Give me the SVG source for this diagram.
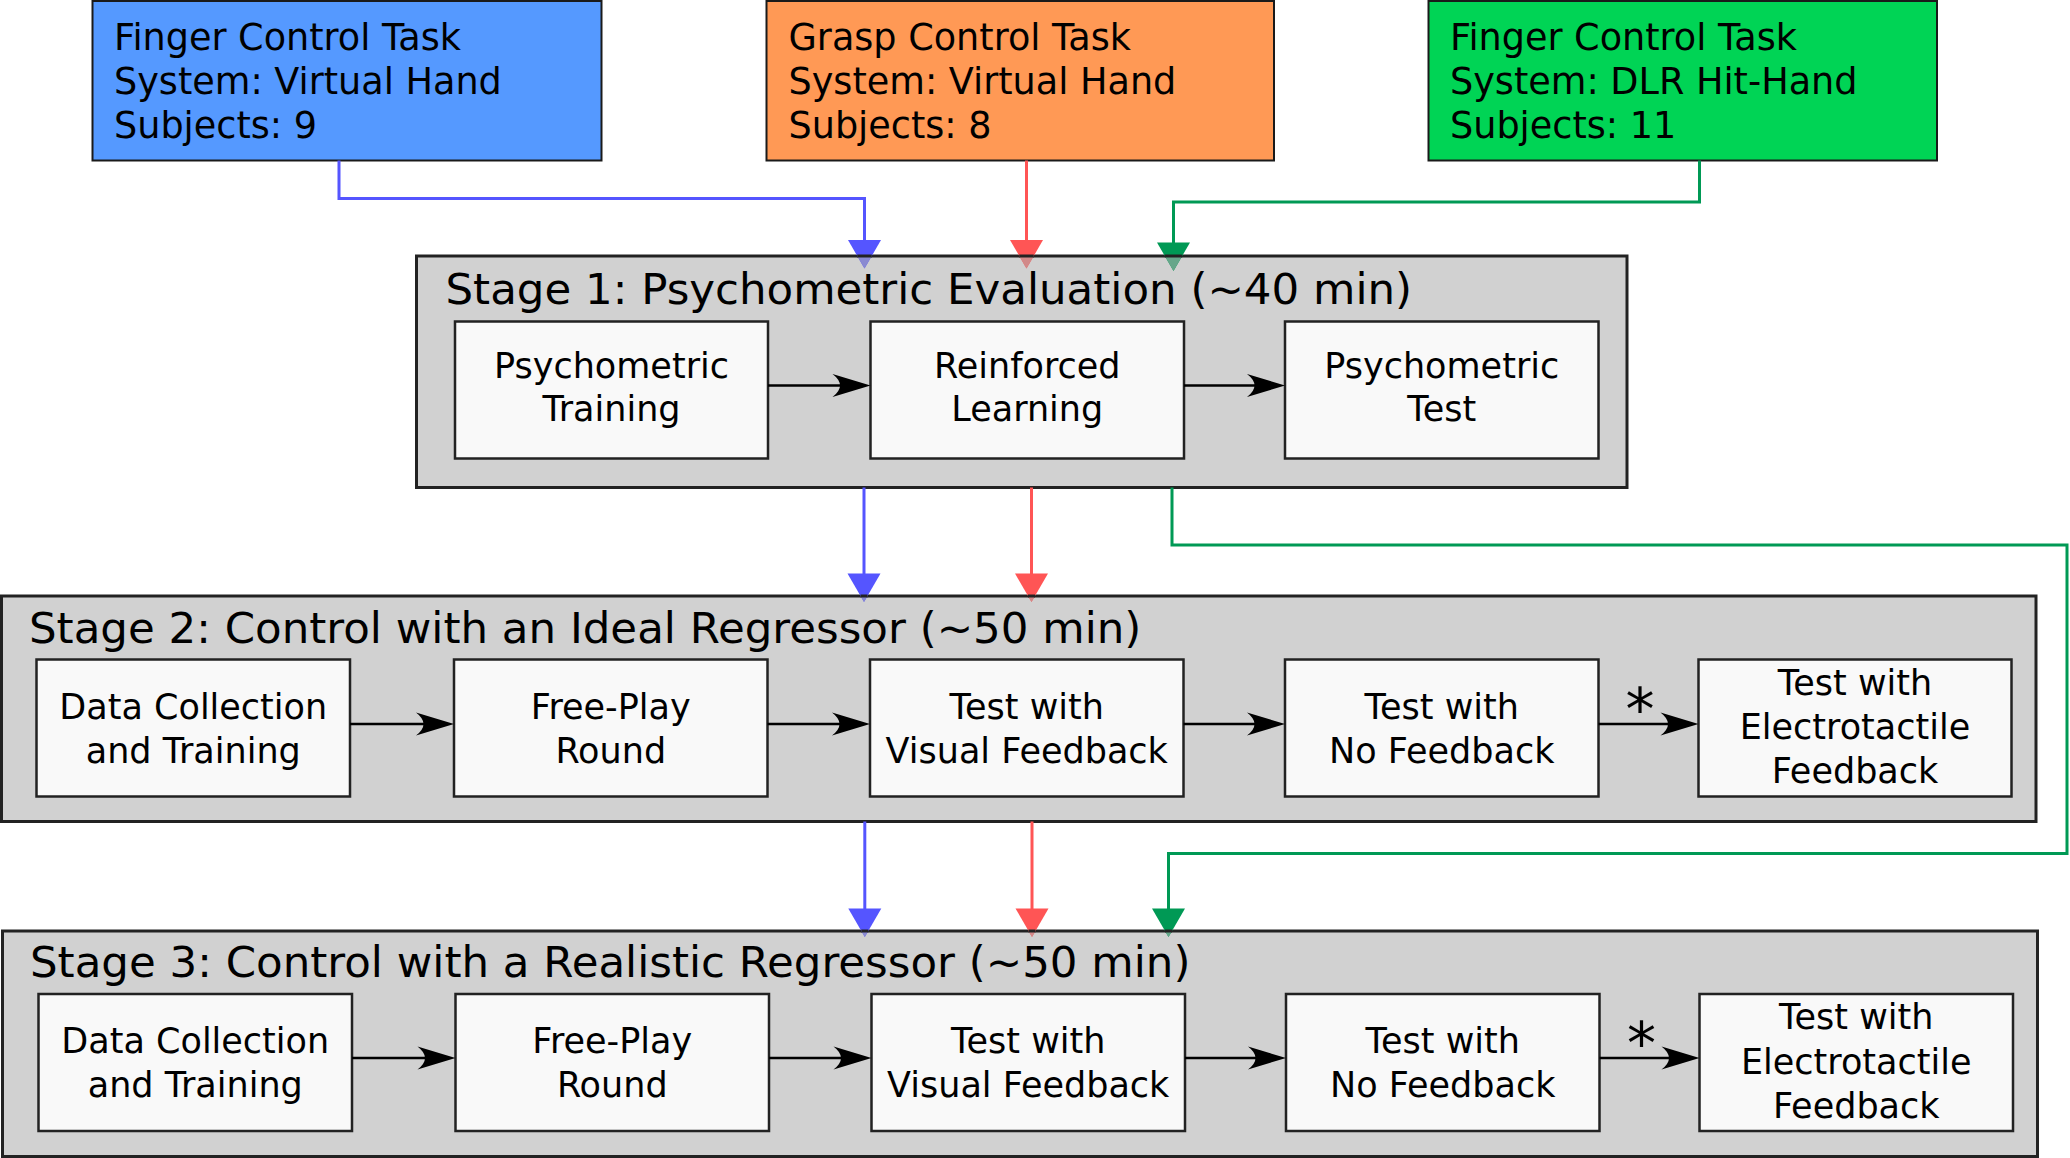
<svg xmlns="http://www.w3.org/2000/svg" width="2070" height="1158" viewBox="0 0 2070 1158">
<style>
  text{font-family:"DejaVu Sans",Verdana,sans-serif;font-size:35px;fill:#000}
  .c{text-anchor:middle}
  .title{font-size:43.5px}
  .tt{font-size:36.6px}
  .task{stroke:#1a1a1a;stroke-width:2}
  .stage{fill:#d1d1d1;stroke:#222;stroke-width:3}
  .sub{fill:#f9f9f9;stroke:#222;stroke-width:2.5}
  .flow{stroke:#000;stroke-width:2.5;fill:none;marker-end:url(#ak)}
  .lb{stroke:#5555ff;stroke-width:3;fill:none}
  .lr{stroke:#ff5555;stroke-width:3;fill:none}
  .lg{stroke:#009955;stroke-width:3;fill:none}
  .star{font-size:58px}
</style>
<defs>
  <marker id="ak" markerUnits="userSpaceOnUse" orient="auto" overflow="visible" markerWidth="1" markerHeight="1" refX="0" refY="0">
    <path d="M30,0 L-8,-11.5 Q7,0 -8,11.5 Z" fill="#000"/>
  </marker>
  <marker id="mb12" markerUnits="userSpaceOnUse" orient="auto" overflow="visible" markerWidth="1" markerHeight="1" refX="0" refY="0">
    <path d="M26,0 L-2.5,-16.5 L-2.5,16.5 Z" fill="#5555ff"/>
    <path d="M26,0 L13.5,-7.24 L13.5,7.24 Z" fill="#8a8ad1"/>
    <path d="M13.5,-7.3 V7.3" stroke="#222" stroke-width="3"/>
  </marker>
  <marker id="mr12" markerUnits="userSpaceOnUse" orient="auto" overflow="visible" markerWidth="1" markerHeight="1" refX="0" refY="0">
    <path d="M26,0 L-2.5,-16.5 L-2.5,16.5 Z" fill="#ff5555"/>
    <path d="M26,0 L13.5,-7.24 L13.5,7.24 Z" fill="#d18a8a"/>
    <path d="M13.5,-7.3 V7.3" stroke="#222" stroke-width="3"/>
  </marker>
  <marker id="mg15" markerUnits="userSpaceOnUse" orient="auto" overflow="visible" markerWidth="1" markerHeight="1" refX="0" refY="0">
    <path d="M26,0 L-2.5,-16.5 L-2.5,16.5 Z" fill="#009955"/>
    <path d="M26,0 L11,-8.68 L11,8.68 Z" fill="#66a68a"/>
    <path d="M11,-8.7 V8.7" stroke="#222" stroke-width="3"/>
  </marker>
  <marker id="mb6" markerUnits="userSpaceOnUse" orient="auto" overflow="visible" markerWidth="1" markerHeight="1" refX="0" refY="0">
    <path d="M26,0 L-2.5,-16.5 L-2.5,16.5 Z" fill="#5555ff"/>
    <path d="M26,0 L20,-3.47 L20,3.47 Z" fill="#8a8ad1"/>
    <path d="M20,-3.5 V3.5" stroke="#222" stroke-width="3"/>
  </marker>
  <marker id="mr6" markerUnits="userSpaceOnUse" orient="auto" overflow="visible" markerWidth="1" markerHeight="1" refX="0" refY="0">
    <path d="M26,0 L-2.5,-16.5 L-2.5,16.5 Z" fill="#ff5555"/>
    <path d="M26,0 L20,-3.47 L20,3.47 Z" fill="#d18a8a"/>
    <path d="M20,-3.5 V3.5" stroke="#222" stroke-width="3"/>
  </marker>
  <marker id="mg6" markerUnits="userSpaceOnUse" orient="auto" overflow="visible" markerWidth="1" markerHeight="1" refX="0" refY="0">
    <path d="M26,0 L-2.5,-16.5 L-2.5,16.5 Z" fill="#009955"/>
    <path d="M26,0 L20,-3.47 L20,3.47 Z" fill="#66a68a"/>
    <path d="M20,-3.5 V3.5" stroke="#222" stroke-width="3"/>
  </marker>
</defs>
<rect width="2070" height="1158" fill="#ffffff"/>

<!-- Task nodes -->
<g id="task-finger-virtual">
  <rect class="task" x="92.5" y="1" width="509" height="159.5" fill="#5599ff"/>
  <text class="tt" x="114" y="49.5">Finger Control Task</text>
  <text class="tt" x="114" y="93.5">System: Virtual Hand</text>
  <text class="tt" x="114" y="137.5">Subjects: 9</text>
</g>
<g id="task-grasp-virtual">
  <rect class="task" x="766.5" y="1" width="507.5" height="159.5" fill="#ff9955"/>
  <text class="tt" x="788.5" y="49.5">Grasp Control Task</text>
  <text class="tt" x="788.5" y="93.5">System: Virtual Hand</text>
  <text class="tt" x="788.5" y="137.5">Subjects: 8</text>
</g>
<g id="task-finger-dlr">
  <rect class="task" x="1428.5" y="1" width="508.5" height="159.5" fill="#00d455"/>
  <text class="tt" x="1450" y="49.5">Finger Control Task</text>
  <text class="tt" x="1450" y="93.5">System: DLR Hit-Hand</text>
  <text class="tt" x="1450" y="137.5">Subjects: 11</text>
</g>

<!-- Stage 1 -->
<g id="stage1">
  <rect class="stage" x="416.5" y="256" width="1210.5" height="231.5"/>
  <text class="title" x="445.5" y="304">Stage 1: Psychometric Evaluation (~40 min)</text>
</g>
<g id="s1-psychometric-training">
  <rect class="sub" x="455" y="321.5" width="313" height="137"/>
  <text class="c" x="611.5" y="377.5">Psychometric</text>
  <text class="c" x="611.5" y="421">Training</text>
</g>
<g id="s1-reinforced-learning">
  <rect class="sub" x="870.5" y="321.5" width="313.5" height="137"/>
  <text class="c" x="1027.25" y="377.5">Reinforced</text>
  <text class="c" x="1027.25" y="421">Learning</text>
</g>
<g id="s1-psychometric-test">
  <rect class="sub" x="1285" y="321.5" width="313.5" height="137"/>
  <text class="c" x="1441.75" y="377.5">Psychometric</text>
  <text class="c" x="1441.75" y="421">Test</text>
</g>

<!-- Stage 2 -->
<g id="stage2">
  <rect class="stage" x="1.5" y="596" width="2034.5" height="225.5"/>
  <text class="title" x="29" y="643">Stage 2: Control with an Ideal Regressor (~50 min)</text>
</g>
<g id="s2-data-collection">
  <rect class="sub" x="36.5" y="659.5" width="313.5" height="137"/>
  <text class="c" x="193.25" y="718.5">Data Collection</text>
  <text class="c" x="193.25" y="762.5">and Training</text>
</g>
<g id="s2-free-play">
  <rect class="sub" x="454" y="659.5" width="313.5" height="137"/>
  <text class="c" x="610.75" y="718.5">Free-Play</text>
  <text class="c" x="610.75" y="762.5">Round</text>
</g>
<g id="s2-visual-feedback">
  <rect class="sub" x="870" y="659.5" width="313.5" height="137"/>
  <text class="c" x="1026.75" y="718.5">Test with</text>
  <text class="c" x="1026.75" y="762.5">Visual Feedback</text>
</g>
<g id="s2-no-feedback">
  <rect class="sub" x="1285" y="659.5" width="313.5" height="137"/>
  <text class="c" x="1441.75" y="718.5">Test with</text>
  <text class="c" x="1441.75" y="762.5">No Feedback</text>
</g>
<g id="s2-electrotactile">
  <rect class="sub" x="1698.5" y="659.5" width="313" height="137"/>
  <text class="c" x="1855" y="694.5">Test with</text>
  <text class="c" x="1855" y="739">Electrotactile</text>
  <text class="c" x="1855" y="783">Feedback</text>
</g>

<!-- Stage 3 -->
<g id="stage3">
  <rect class="stage" x="2.5" y="931" width="2035" height="225.5"/>
  <text class="title" x="30" y="977">Stage 3: Control with a Realistic Regressor (~50 min)</text>
</g>
<g id="s3-data-collection">
  <rect class="sub" x="38.5" y="994" width="313.5" height="137"/>
  <text class="c" x="195.25" y="1053">Data Collection</text>
  <text class="c" x="195.25" y="1097">and Training</text>
</g>
<g id="s3-free-play">
  <rect class="sub" x="455.5" y="994" width="313.5" height="137"/>
  <text class="c" x="612.25" y="1053">Free-Play</text>
  <text class="c" x="612.25" y="1097">Round</text>
</g>
<g id="s3-visual-feedback">
  <rect class="sub" x="871.5" y="994" width="313.5" height="137"/>
  <text class="c" x="1028.25" y="1053">Test with</text>
  <text class="c" x="1028.25" y="1097">Visual Feedback</text>
</g>
<g id="s3-no-feedback">
  <rect class="sub" x="1286" y="994" width="313.5" height="137"/>
  <text class="c" x="1442.75" y="1053">Test with</text>
  <text class="c" x="1442.75" y="1097">No Feedback</text>
</g>
<g id="s3-electrotactile">
  <rect class="sub" x="1699.5" y="994" width="313.5" height="137"/>
  <text class="c" x="1856.25" y="1029">Test with</text>
  <text class="c" x="1856.25" y="1073.5">Electrotactile</text>
  <text class="c" x="1856.25" y="1117.5">Feedback</text>
</g>

<!-- Connectors -->
<g id="connectors">
  <path class="lb" d="M339,160.5 V198.5 H864.5 V242.5" marker-end="url(#mb12)"/>
  <path class="lr" d="M1026.5,160.5 V242.5" marker-end="url(#mr12)"/>
  <path class="lg" d="M1699.5,160.5 V202 H1173.5 V245" marker-end="url(#mg15)"/>

  <path class="lb" d="M864,487.5 V576" marker-end="url(#mb6)"/>
  <path class="lr" d="M1031.5,487.5 V576" marker-end="url(#mr6)"/>
  <path class="lg" d="M1172,487.5 V545 H2067 V853.5 H1168.5 V911" marker-end="url(#mg6)"/>

  <path class="lb" d="M864.8,821.5 V911" marker-end="url(#mb6)"/>
  <path class="lr" d="M1032,821.5 V911" marker-end="url(#mr6)"/>

  <path class="flow" d="M768,385.5 H840.5"/>
  <path class="flow" d="M1184,385.5 H1255"/>

  <path class="flow" d="M350,724 H424"/>
  <path class="flow" d="M767.5,724 H840"/>
  <path class="flow" d="M1183.5,724 H1255"/>
  <path class="flow" d="M1598.5,724 H1668.5"/>
  <text class="star c" x="1640" y="730">*</text>

  <path class="flow" d="M352,1058 H425.5"/>
  <path class="flow" d="M769,1058 H841.5"/>
  <path class="flow" d="M1185,1058 H1256"/>
  <path class="flow" d="M1599.5,1058 H1669.5"/>
  <text class="star c" x="1641.5" y="1064">*</text>
</g>
</svg>
